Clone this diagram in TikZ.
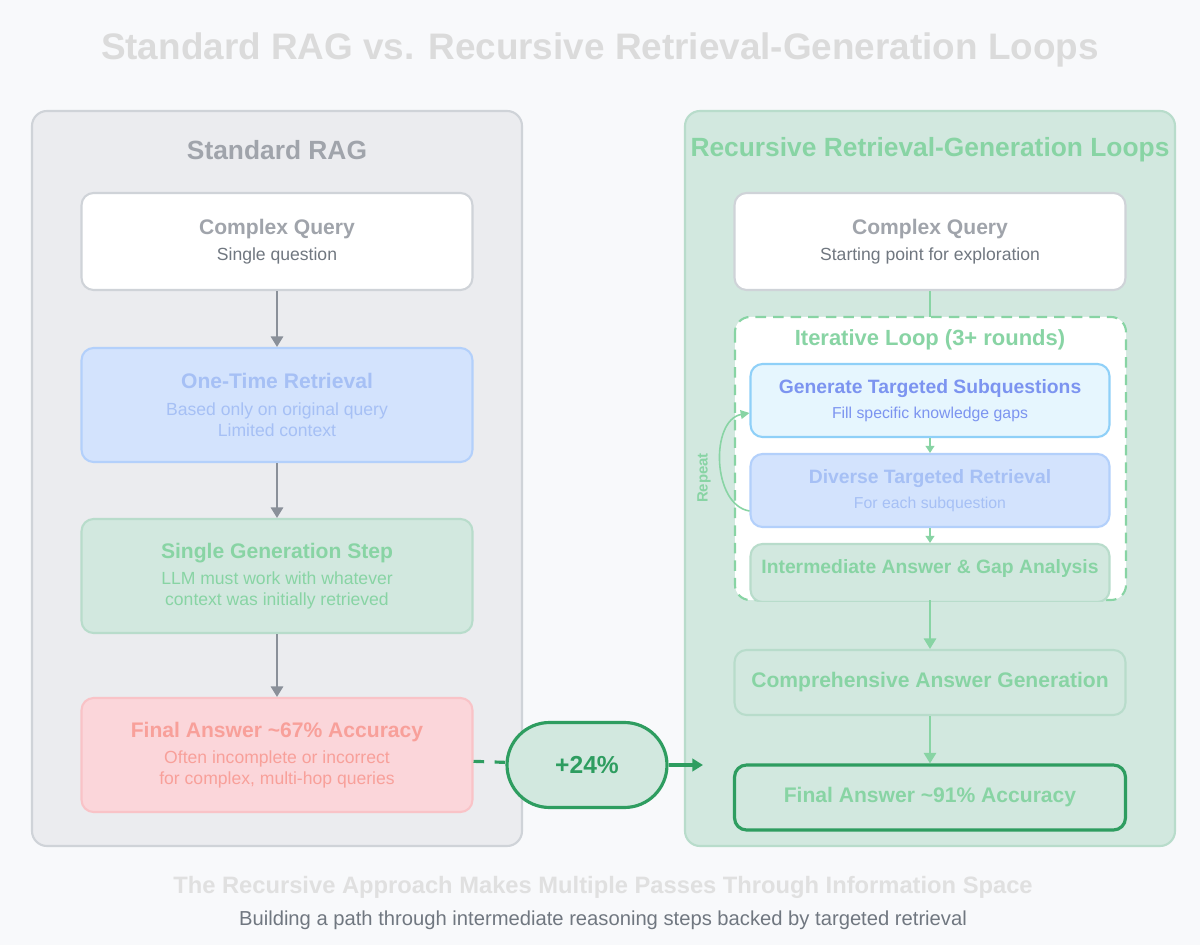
\documentclass[tikz,border=0pt]{standalone}
\usepackage{fontspec}
\setmainfont{Liberation Sans}
\usetikzlibrary{arrows.meta, positioning, calc}
\definecolor{bgc}{HTML}{F8F9FB}
\definecolor{panelL}{HTML}{EBECEF}
\definecolor{panelLd}{HTML}{CFD3D8}
\definecolor{greyT}{HTML}{A0A4AB}
\definecolor{greyS}{HTML}{707780}
\definecolor{greyA}{HTML}{8A9099}
\definecolor{blueF}{HTML}{D3E3FD}
\definecolor{blueD}{HTML}{B3D0FB}
\definecolor{blueT}{HTML}{A6C0F5}
\definecolor{greenF}{HTML}{D2E8DF}
\definecolor{greenD}{HTML}{B8DCCB}
\definecolor{greenT}{HTML}{88D4A4}
\definecolor{greenK}{HTML}{2E9D60}
\definecolor{redF}{HTML}{FBD6DA}
\definecolor{redD}{HTML}{F9C3C7}
\definecolor{redT}{HTML}{F8A09A}
\definecolor{skyF}{HTML}{E6F6FE}
\definecolor{skyD}{HTML}{8FD0F8}
\definecolor{skyT}{HTML}{7C94F0}
\tikzset{panel/.style = {rounded corners=3mm, line width=1.2pt}}
\tikzset{box/.style = {
  rectangle, rounded corners=2.4mm, line width=1.2pt,
  minimum width=7.82cm, minimum height=#1, align=center,
  inner sep=0pt
  }}
\tikzset{sbox/.style = {box=#1, minimum width=7.18cm}}
\tikzset{arrow/.style = {-{Triangle[length=6pt,width=7pt]}, line width=1.2pt}}
\newcommand{\hdf}{\bfseries\fontsize{12}{15}\selectfont}
\newcommand{\subf}{\mdseries\fontsize{10}{13}\selectfont}
\begin{document}
\begin{tikzpicture}[x=0.02cm, y=-0.02cm]
\fill[bgc] (0,0) rectangle (1200,945);
\useasboundingbox (0,0) rectangle (1200,945);

	% Title
    \node (title) [text=black!14, font=\bfseries\fontsize{21}{25}\selectfont] at (600,50) {Standard RAG vs. Recursive Retrieval-Generation Loops};

	% Left panel
    \draw[panel, fill=panelL, draw=panelLd] (32,111) rectangle (522,846);
    \node (lhead) [text=greyT, font=\bfseries\fontsize{15}{18}\selectfont] at (277,150) {Standard RAG};
    \node (lq) [box=1.94cm, fill=white, draw=panelLd, text=greyT] at (277,241.5) {\hdf Complex Query\\[3pt]\subf\color{greyS} Single question};
    \node (lr) [box=2.28cm, fill=blueF, draw=blueD, text=blueT] at (277,405) {\hdf One-Time Retrieval\\[3pt]\subf Based only on original query\\\subf Limited context};
    \node (lg) [box=2.28cm, fill=greenF, draw=greenD, text=greenT] at (277,576) {\hdf Single Generation Step\\[3pt]\subf LLM must work with whatever\\\subf context was initially retrieved};
    \node (lf) [box=2.28cm, fill=redF, draw=redD, text=redT] at (277,755) {\hdf Final Answer \textasciitilde 67\% Accuracy\\[3pt]\subf Often incomplete or incorrect\\\subf for complex, multi-hop queries};
    \foreach \a/\b in {lq/lr, lr/lg, lg/lf}
      \draw[arrow, greyA] (\a) -- (\b);

	% Right panel
    \draw[panel, fill=greenF, draw=greenD] (685,111) rectangle (1175,846);
    \node (rhead) [text=greenT, font=\bfseries\fontsize{15}{18}\selectfont] at (930,150) {Recursive Retrieval-Generation Loops};
    \node (rq) [box=1.94cm, fill=white, draw=panelLd, text=greyT] at (930,241.5) {\hdf Complex Query\\[3pt]\subf\color{greyS} Starting point for exploration};
    \draw[panel, fill=white, draw=greenT, dash pattern=on 6pt off 4pt] (735,317) rectangle (1126,600);
    \coordinate (looptop) at (930,317);
    \coordinate (loopbot) at (930,600);
    \node (lhd) [text=greenT, font=\bfseries\fontsize{12.5}{15}\selectfont] at (930,340) {Iterative Loop (3+ rounds)};
    \node (gs) [sbox=1.46cm, fill=skyF, draw=skyD, text=skyT] at (930,400.5) {\bfseries\fontsize{11}{14}\selectfont Generate Targeted Subquestions\\[2pt]\mdseries\fontsize{9}{11}\selectfont Fill specific knowledge gaps};
    \node (dr) [sbox=1.46cm, fill=blueF, draw=blueD, text=blueT] at (930,490.5) {\bfseries\fontsize{11}{14}\selectfont Diverse Targeted Retrieval\\[2pt]\mdseries\fontsize{9}{11}\selectfont For each subquestion};
    \begin{scope}
      \clip (735,317) rectangle (1126,601);
      \node (ia) [sbox=1.16cm, fill=greenF, draw=greenD] at (930,573) {};
    \end{scope}
    \node (ialab) [text=greenT, font=\bfseries\fontsize{11}{14}\selectfont] at (930,569) {Intermediate Answer \& Gap Analysis};
    \draw[-{Triangle[length=4pt,width=5pt]}, greenT, line width=0.8pt] (gs) -- (dr);
    \draw[-{Triangle[length=4pt,width=5pt]}, greenT, line width=0.8pt] (dr) -- (ia.north);
    \draw[-{Triangle[length=5pt,width=5pt]}, greenT, line width=0.9pt] (dr.west |- 0,511) .. controls (712,505) and (710,420) .. (gs.west |- 0,413);
    \node (rep) [rotate=90, text=greenT, font=\bfseries\fontsize{8.5}{10}\selectfont] at (704,478) {Repeat};
    \draw[greenT, line width=1.2pt] (rq) -- (looptop);
    \node (ca) [box=1.3cm, fill=greenF, draw=greenD, text=greenT] at (930,682.5) {\hdf Comprehensive Answer Generation};
    \node (rf) [box=1.3cm, fill=greenF, draw=greenK, line width=1.8pt, text=greenT] at (930,797.5) {\hdf Final Answer \textasciitilde 91\% Accuracy};
    \draw[arrow, greenT] (loopbot) -- (ca);
    \draw[arrow, greenT] (ca) -- (rf);

	% Improvement
    \node (gain) [rectangle, rounded corners=0.85cm, fill=greenF, draw=greenK, line width=1.8pt,
      minimum width=3.2cm, minimum height=1.7cm, text=greenK, font=\bfseries\fontsize{14}{17}\selectfont] at (587,765) {+24\%};
    \coordinate (rin) at (703,765);
    \draw[greenK, line width=1.8pt, dash pattern=on 6pt off 6pt] (lf) -- (gain);
    \draw[arrow, greenK, line width=1.8pt] (gain) -- (rin);

	% Footer
    \node (foot) [text=black!12, font=\bfseries\fontsize{13.5}{16}\selectfont] at (603,887) {The Recursive Approach Makes Multiple Passes Through Information Space};
    \node (foot2) [text=greyS, font=\fontsize{11.5}{14}\selectfont] at (603,920) {Building a path through intermediate reasoning steps backed by targeted retrieval};
\end{tikzpicture}
\end{document}
